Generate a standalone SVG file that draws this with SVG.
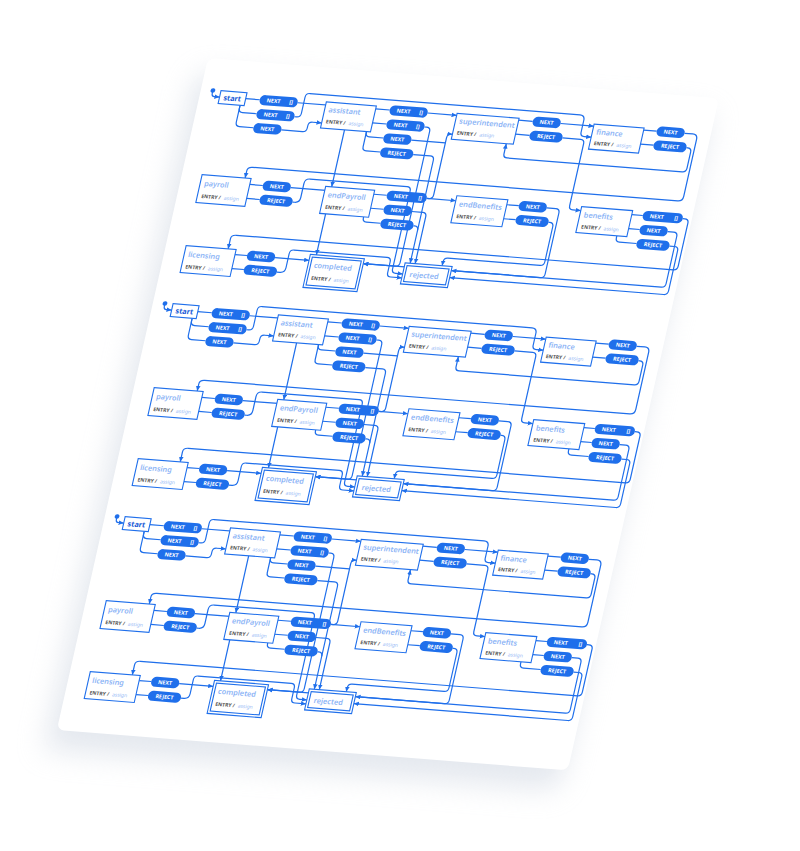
<svg xmlns="http://www.w3.org/2000/svg" xmlns:xlink="http://www.w3.org/1999/xlink" width="800" height="851" viewBox="0 0 800 851">
<defs>
<style>
.b{fill:#fff;stroke:#1f6feb;stroke-width:1.1}
.n{font-family:"Noto Sans","Open Sans",sans-serif;font-size:7.3px;font-weight:600;fill:#8cb4f6}
.s{fill:#1558d6;font-weight:700}
.e{font-family:"Noto Sans","Open Sans",sans-serif;font-size:5px;font-weight:700;fill:#555}
.a{font-weight:400;fill:#94b8f5}
.p{fill:#1f6feb}
.t{font-family:"Noto Sans","Open Sans",sans-serif;font-size:5.3px;font-weight:700;fill:#fff;text-anchor:middle}
.c path{fill:none;stroke:#1f6feb;stroke-width:1.2}
.c path.m{marker-end:url(#arr)}
</style>
<marker id="arr" viewBox="0 0 10 10" refX="10" refY="5" markerWidth="5" markerHeight="5" markerUnits="userSpaceOnUse" orient="auto"><path d="M0,0.5 L10,5 L0,9.5 z" fill="#1f6feb"/></marker>
<filter id="sh" x="-30%" y="-30%" width="160%" height="160%"><feGaussianBlur stdDeviation="14"/></filter>
<g id="sm">
<g id="connectors" class="c">
<path class="m" d="M12,33 V34.5 Q12,37.5 15,37.5 H20"/>
<path d="M46,37 H60"/><path d="M42,44 V47 Q42,51 46,51 H60"/><path d="M42,44 V61 Q42,65 46,65 H60"/>
<path d="M176,37 H190"/><path d="M176,51 H190"/><path d="M172,60 V61 Q172,65 176,65 H190"/><path d="M172,60 V75 Q172,79 176,79 H190"/>
<path d="M319,37 H333"/><path d="M319,51 H333"/>
<path d="M444,37 H457"/><path d="M444,51 H457"/>
<path d="M69,121 H82"/><path d="M69,135 H82"/>
<path d="M193,121 H206"/><path d="M193,135 H206"/><path d="M188,144 V145 Q188,149 192,149 H206"/>
<path d="M326,121 H338"/><path d="M326,135 H338"/>
<path d="M451,121 H462"/><path d="M451,135 H462"/><path d="M441,143 V145 Q441,149 445,149 H462"/>
<path d="M70,191 H82"/><path d="M70,205 H82"/>
<path class="m" d="M98,37 H145 Q150,37 150,42 V117"/>
<path class="m" d="M98,51 H100 Q104,51 104,47 V31 Q104,27 108,27 H378 Q383,27 383,32 V44 Q383,48 387,48 H394"/>
<path class="m" d="M88,65 H109 Q113,65 113,61 V59 Q113,55 117,55 H126"/>
<path class="m" d="M228,37 H257"/>
<path class="m" d="M228,51 H230 Q234,51 234,55 V186 Q234,190 230,190 H198"/>
<path d="M218,65 H252"/>
<path class="m" d="M246,121 H248 Q252,121 252,117 V60 Q252,56 256,56 H257"/>
<path class="m" d="M234,135 H245 Q249,135 249,139 V186"/>
<path class="m" d="M223,79 H240 Q244,79 244,83 V186"/>
<path d="M239,149 H240 Q244,149 244,153"/>
<path class="m" d="M115,135 H117 Q122,135 122,130 V116 Q122,111 127,111 H224 Q228,111 228,115 V193 Q228,197 232,197 H239"/>
<path class="m" d="M110,121 H145 Q150,121 150,126 V185"/>
<path class="m" d="M110,191 H144"/>
<path class="m" d="M115,205 H118 Q123,205 123,200 V186 Q123,182 127,182 H220 Q224,182 224,186 V197 Q224,201 228,201 H239"/>
<path class="m" d="M246,121 H275"/>
<path class="m" d="M361,37 H394"/>
<path class="m" d="M366,51 H384 Q388,51 388,55 V117 Q388,121 392,121 H400"/>
<path class="m" d="M485,37 H493 Q498,37 498,42 V99 Q498,104 493,104 H68 Q63,104 63,108 V115"/>
<path class="m" d="M490,51 H491 Q495,51 495,55 V71 Q495,75 491,75 H316 Q312,75 312,71 V61"/>
<path class="m" d="M366,121 H375 Q379,121 379,125 V186 Q379,190 375,190 H198"/>
<path class="m" d="M371,135 H372 Q376,135 376,139 V174 Q376,178 372,178 H280 Q276,178 276,182 V186"/>
<path class="m" d="M502,121 H504 Q508,121 508,125 V168 Q508,172 504,172 H67 Q62,172 62,176 V186"/>
<path class="m" d="M490,135 H496 Q500,135 500,139 V186 Q500,190 496,190 H286"/>
<path class="m" d="M495,149 H500 Q504,149 504,153 V193 Q504,197 500,197 H286"/>
</g>
<circle cx="12" cy="31.5" r="2.3" fill="#1f6feb"/>
<g id="start"><rect class="b" x="20" y="31" width="26" height="13"/><text class="n s" x="24" y="40.3">start</text>
<rect class="p" x="60" y="32" width="38" height="10" rx="5"/><text class="t" x="74" y="38.9">NEXT</text><text class="t" x="91.5" y="38.9">[]</text>
<rect class="p" x="60" y="46" width="38" height="10" rx="5"/><text class="t" x="74" y="52.9">NEXT</text><text class="t" x="91.5" y="52.9">[]</text>
<rect class="p" x="60" y="60" width="28" height="10" rx="5"/><text class="t" x="74" y="66.9">NEXT</text></g>
<g id="assistant"><rect class="b" x="126" y="34" width="50" height="26"/><text class="n" x="130" y="44">assistant</text><text class="e" x="130" y="55">ENTRY /<tspan class="a" dx="3">assign</tspan></text>
<rect class="p" x="190" y="32" width="38" height="10" rx="5"/><text class="t" x="204" y="38.9">NEXT</text><text class="t" x="221.5" y="38.9">[]</text>
<rect class="p" x="190" y="46" width="38" height="10" rx="5"/><text class="t" x="204" y="52.9">NEXT</text><text class="t" x="221.5" y="52.9">[]</text>
<rect class="p" x="190" y="60" width="28" height="10" rx="5"/><text class="t" x="204" y="66.9">NEXT</text>
<rect class="p" x="190" y="74" width="33" height="10" rx="5"/><text class="t" x="206.5" y="80.9">REJECT</text></g>
<g id="superintendent"><rect class="b" x="257" y="35" width="62" height="26"/><text class="n" x="261" y="45">superintendent</text><text class="e" x="261" y="56">ENTRY /<tspan class="a" dx="3">assign</tspan></text>
<rect class="p" x="333" y="32" width="28" height="10" rx="5"/><text class="t" x="347" y="38.9">NEXT</text>
<rect class="p" x="333" y="46" width="33" height="10" rx="5"/><text class="t" x="349.5" y="52.9">REJECT</text></g>
<g id="finance"><rect class="b" x="394" y="35" width="50" height="25"/><text class="n" x="398" y="45">finance</text><text class="e" x="398" y="55.5">ENTRY /<tspan class="a" dx="3">assign</tspan></text>
<rect class="p" x="457" y="32" width="28" height="10" rx="5"/><text class="t" x="471" y="38.9">NEXT</text>
<rect class="p" x="457" y="46" width="33" height="10" rx="5"/><text class="t" x="473.5" y="52.9">REJECT</text></g>
<g id="payroll"><rect class="b" x="20" y="115" width="49" height="28"/><text class="n" x="24" y="126">payroll</text><text class="e" x="24" y="138">ENTRY /<tspan class="a" dx="3">assign</tspan></text>
<rect class="p" x="82" y="116" width="28" height="10" rx="5"/><text class="t" x="96" y="122.9">NEXT</text>
<rect class="p" x="82" y="130" width="33" height="10" rx="5"/><text class="t" x="98.5" y="136.9">REJECT</text></g>
<g id="endPayroll"><rect class="b" x="144" y="117" width="49" height="27"/><text class="n" x="148" y="127.5">endPayroll</text><text class="e" x="148" y="139">ENTRY /<tspan class="a" dx="3">assign</tspan></text>
<rect class="p" x="206" y="116" width="40" height="10" rx="5"/><text class="t" x="220" y="122.9">NEXT</text><text class="t" x="239.5" y="122.9">[]</text>
<rect class="p" x="206" y="130" width="28" height="10" rx="5"/><text class="t" x="220" y="136.9">NEXT</text>
<rect class="p" x="206" y="144" width="33" height="10" rx="5"/><text class="t" x="222.5" y="150.9">REJECT</text></g>
<g id="endBenefits"><rect class="b" x="275" y="116" width="51" height="27"/><text class="n" x="279" y="126.5">endBenefits</text><text class="e" x="279" y="138">ENTRY /<tspan class="a" dx="3">assign</tspan></text>
<rect class="p" x="338" y="116" width="28" height="10" rx="5"/><text class="t" x="352" y="122.9">NEXT</text>
<rect class="p" x="338" y="130" width="33" height="10" rx="5"/><text class="t" x="354.5" y="136.9">REJECT</text></g>
<g id="benefits"><rect class="b" x="400" y="117" width="51" height="26"/><text class="n" x="404" y="127.5">benefits</text><text class="e" x="404" y="138.5">ENTRY /<tspan class="a" dx="3">assign</tspan></text>
<rect class="p" x="462" y="116" width="40" height="10" rx="5"/><text class="t" x="476" y="122.9">NEXT</text><text class="t" x="495.5" y="122.9">[]</text>
<rect class="p" x="462" y="130" width="28" height="10" rx="5"/><text class="t" x="476" y="136.9">NEXT</text>
<rect class="p" x="462" y="144" width="33" height="10" rx="5"/><text class="t" x="478.5" y="150.9">REJECT</text></g>
<g id="licensing"><rect class="b" x="20" y="186" width="50" height="27"/><text class="n" x="24" y="197">licensing</text><text class="e" x="24" y="208.5">ENTRY /<tspan class="a" dx="3">assign</tspan></text>
<rect class="p" x="82" y="186" width="28" height="10" rx="5"/><text class="t" x="96" y="192.9">NEXT</text>
<rect class="p" x="82" y="200" width="33" height="10" rx="5"/><text class="t" x="98.5" y="206.9">REJECT</text></g>
<g id="completed"><rect class="b" x="144" y="185" width="54" height="33"/><rect class="b" x="146.5" y="187.5" width="49" height="28"/><text class="n" x="150" y="198">completed</text><text class="e" x="150" y="210">ENTRY /<tspan class="a" dx="3">assign</tspan></text></g>
<g id="rejected"><rect class="b" x="239" y="186" width="47" height="21"/><rect class="b" x="241.5" y="188.5" width="42" height="16"/><text class="n" x="246" y="199.5">rejected</text></g>
</g>
</defs>
<rect width="800" height="851" fill="#fff"/>
<g transform="matrix(1 0.079 -0.225 1 208 58)">
<rect x="-8" y="16" width="515" height="676" rx="10" fill="#c9d1de" opacity="0.5" filter="url(#sh)"/>
<rect x="0" y="0" width="511" height="672" rx="7" fill="#fff"/>
<use xlink:href="#sm" href="#sm"/>
<use xlink:href="#sm" href="#sm" y="213"/>
<use xlink:href="#sm" href="#sm" y="426"/>
</g>
</svg>
